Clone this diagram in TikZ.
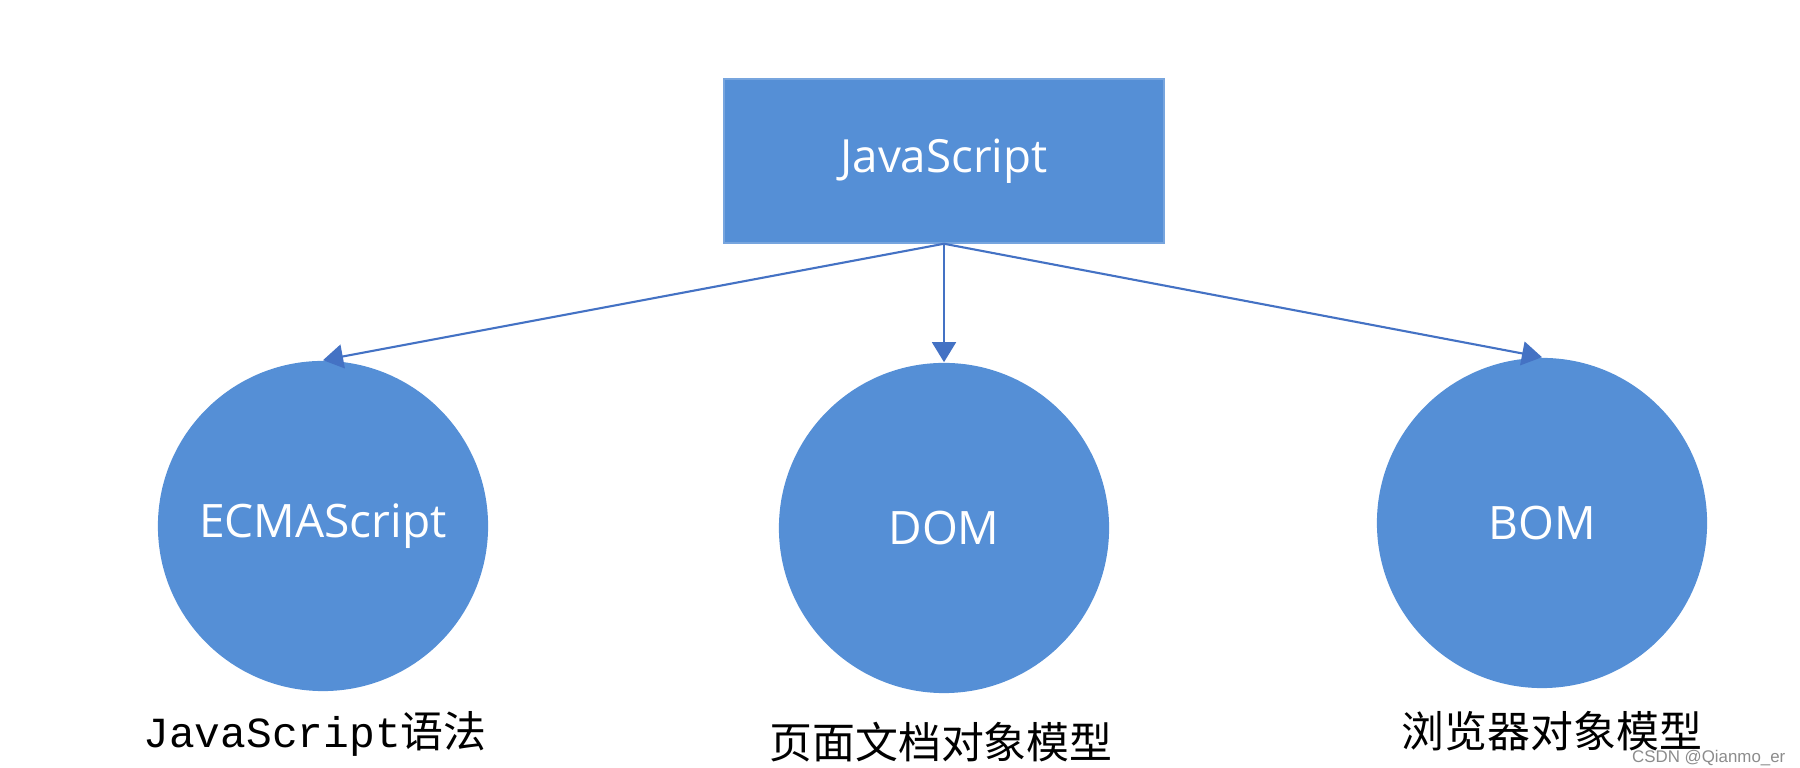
\documentclass[tikz,border=0pt]{standalone}
\usepackage{fontspec}
\setmainfont{Open Sans}
\newfontfamily\cjkfont{Noto Sans CJK SC}
\newfontfamily\monofont{Liberation Mono}
\newfontfamily\wmfont{Liberation Sans}
\usetikzlibrary{arrows.meta}
\definecolor{boxblue}{RGB}{85,143,214}
\definecolor{arrowblue}{RGB}{68,114,196}
\begin{document}
\begin{tikzpicture}[x=0.01cm,y=-0.01cm,
  topbox/.style={rectangle,fill=boxblue,draw=boxblue!80!white,line width=0.4pt,
    minimum width=4.4cm,minimum height=1.64cm,inner sep=0pt,
    text=white,font=\fontsize{13pt}{15pt}\selectfont},
  bubble/.style={circle,fill=boxblue,minimum size=3.3cm,inner sep=0pt,
    text=white,font=\fontsize{13.1pt}{15pt}\selectfont},
  caption/.style={anchor=base,inner sep=0pt,font=\fontsize{12.2pt}{14pt}\selectfont\cjkfont},
  link/.style={draw=arrowblue,line width=0.6pt,-{Triangle[width=6.8pt,length=5.7pt]}}]
\useasboundingbox (0,0) rectangle (1800,768);
\node[topbox] (js) at (944,161) {JavaScript};
\node[bubble] (ecma) at (323,526) {ECMAScript};
\node[bubble] (dom) at (944,528) {DOM};
\node[bubble] (bom) at (1542,523) {BOM};
\draw[link] (js.south) -- (ecma.north);
\draw[link] (js.south) -- (dom.north);
\draw[link] (js.south) -- (bom.north);
\node[caption] (capa) at (315,748) {{\monofont JavaScript}语法};
\node[caption] (capb) at (941,759) {页面文档对象模型};
\node[caption] (capc) at (1552,748) {浏览器对象模型};
\node[anchor=east,inner sep=0pt,text=black!45,font=\fontsize{4.8pt}{6pt}\selectfont\wmfont] (wm) at (1786,758) {CSDN @Qianmo\_er};
\end{tikzpicture}
\end{document}
